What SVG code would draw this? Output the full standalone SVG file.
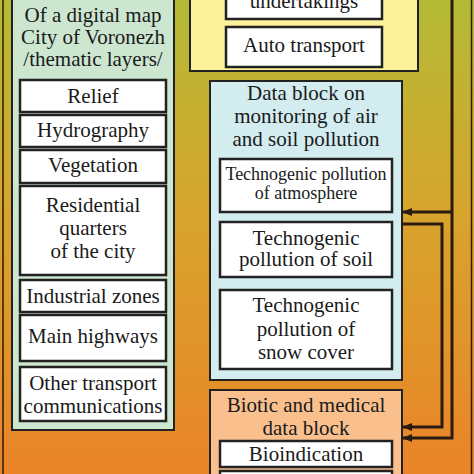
<svg xmlns="http://www.w3.org/2000/svg" width="474" height="474" viewBox="0 0 474 474">
  <defs>
    <linearGradient id="bg" x1="0" y1="0" x2="0" y2="1">
      <stop offset="0" stop-color="#b4bb36"/>
      <stop offset="0.45" stop-color="#d7a42c"/>
      <stop offset="1" stop-color="#ea8428"/>
    </linearGradient>
    <marker id="arr" markerUnits="userSpaceOnUse" markerWidth="10" markerHeight="8" refX="9" refY="4" orient="auto">
      <path d="M0,0 L10,4 L0,8 z" fill="#2a1a12"/>
    </marker>
    <style>
      .panel { stroke: #222; stroke-width: 2; }
      .box { fill: #fff; stroke: #222; stroke-width: 2.5; }
      .t { font-family: "Liberation Serif", "Times New Roman", serif; font-size: 21px; fill: #1a1a1a; text-anchor: middle; }
      .s { font-size: 18px; }
      .conn { fill: none; stroke: #2a1a12; stroke-width: 3; }
      .frame { stroke: #2a1a12; stroke-width: 1.5; fill: none; }
    </style>
  </defs>

  <rect x="0" y="0" width="474" height="474" fill="url(#bg)"/>
  <g id="frame">
    <line class="frame" x1="3" y1="-5" x2="3" y2="480"/>
    <line class="frame" x1="471.5" y1="-5" x2="471.5" y2="480"/>
  </g>

  <g id="map-block">
    <rect class="panel" x="12" y="-20" width="162" height="450" fill="#cce6d0"/>
    <text class="t" x="93" y="22">Of a digital map</text>
    <text class="t" x="93" y="44">City of Voronezh</text>
    <text class="t" x="93" y="66">/thematic layers/</text>
  </g>
  <g id="relief">
    <rect class="box" x="20" y="80" width="146" height="32"/>
    <text class="t" x="93" y="103">Relief</text>
  </g>
  <g id="hydrography">
    <rect class="box" x="20" y="115" width="146" height="32"/>
    <text class="t" x="93" y="137">Hydrography</text>
  </g>
  <g id="vegetation">
    <rect class="box" x="20" y="150" width="146" height="33"/>
    <text class="t" x="93" y="172">Vegetation</text>
  </g>
  <g id="residential">
    <rect class="box" x="20" y="186" width="146" height="89"/>
    <text class="t" x="93" y="212">Residential</text>
    <text class="t" x="93" y="235">quarters</text>
    <text class="t" x="93" y="258">of the city</text>
  </g>
  <g id="industrial">
    <rect class="box" x="20" y="280" width="146" height="32"/>
    <text class="t" x="93" y="303">Industrial zones</text>
  </g>
  <g id="highways">
    <rect class="box" x="20" y="315" width="146" height="46"/>
    <text class="t" x="93" y="343">Main highways</text>
  </g>
  <g id="other-transport">
    <rect class="box" x="20" y="367" width="146" height="54"/>
    <text class="t" x="93" y="390">Other transport</text>
    <text class="t" x="93" y="413">communications</text>
  </g>

  <g id="sources-block">
    <rect class="panel" x="190" y="-30" width="228" height="101" fill="#fbf29b"/>
  </g>
  <g id="undertakings">
    <rect class="box" x="226" y="-40" width="156" height="59"/>
    <text class="t" x="304" y="8">undertakings</text>
  </g>
  <g id="auto-transport">
    <rect class="box" x="226" y="27" width="156" height="40"/>
    <text class="t" x="304" y="52">Auto transport</text>
  </g>

  <g id="pollution-block">
    <rect class="panel" x="210" y="81" width="192" height="299" fill="#d2ecef"/>
    <text class="t" x="306" y="100">Data block on</text>
    <text class="t" x="306" y="123">monitoring of air</text>
    <text class="t" x="306" y="146">and soil pollution</text>
  </g>
  <g id="atmosphere">
    <rect class="box" x="220" y="159" width="172" height="53"/>
    <text class="t s" x="306" y="180">Technogenic pollution</text>
    <text class="t s" x="306" y="199">of atmosphere</text>
  </g>
  <g id="soil">
    <rect class="box" x="220" y="222" width="172" height="55"/>
    <text class="t" x="306" y="245">Technogenic</text>
    <text class="t" x="306" y="266">pollution of soil</text>
  </g>
  <g id="snow">
    <rect class="box" x="220" y="290" width="172" height="79"/>
    <text class="t" x="306" y="312">Technogenic</text>
    <text class="t" x="306" y="336">pollution of</text>
    <text class="t" x="306" y="359">snow cover</text>
  </g>

  <g id="biotic-block">
    <rect class="panel" x="210" y="390" width="192" height="100" fill="#f9c08e"/>
    <text class="t" x="306" y="412">Biotic and medical</text>
    <text class="t" x="306" y="435">data block</text>
  </g>
  <g id="bioindication">
    <rect class="box" x="220" y="441" width="172" height="26"/>
    <text class="t" x="306" y="461">Bioindication</text>
  </g>
  <g id="next-box">
    <rect class="box" x="220" y="471" width="172" height="20"/>
  </g>

  <g id="connectors">
    <path class="conn" d="M452,-5 V438 H403" marker-end="url(#arr)"/>
    <path class="conn" d="M452,212 H403" marker-end="url(#arr)"/>
    <path class="conn" d="M402,224 H442 V427 H403" marker-end="url(#arr)"/>
  </g>
</svg>
